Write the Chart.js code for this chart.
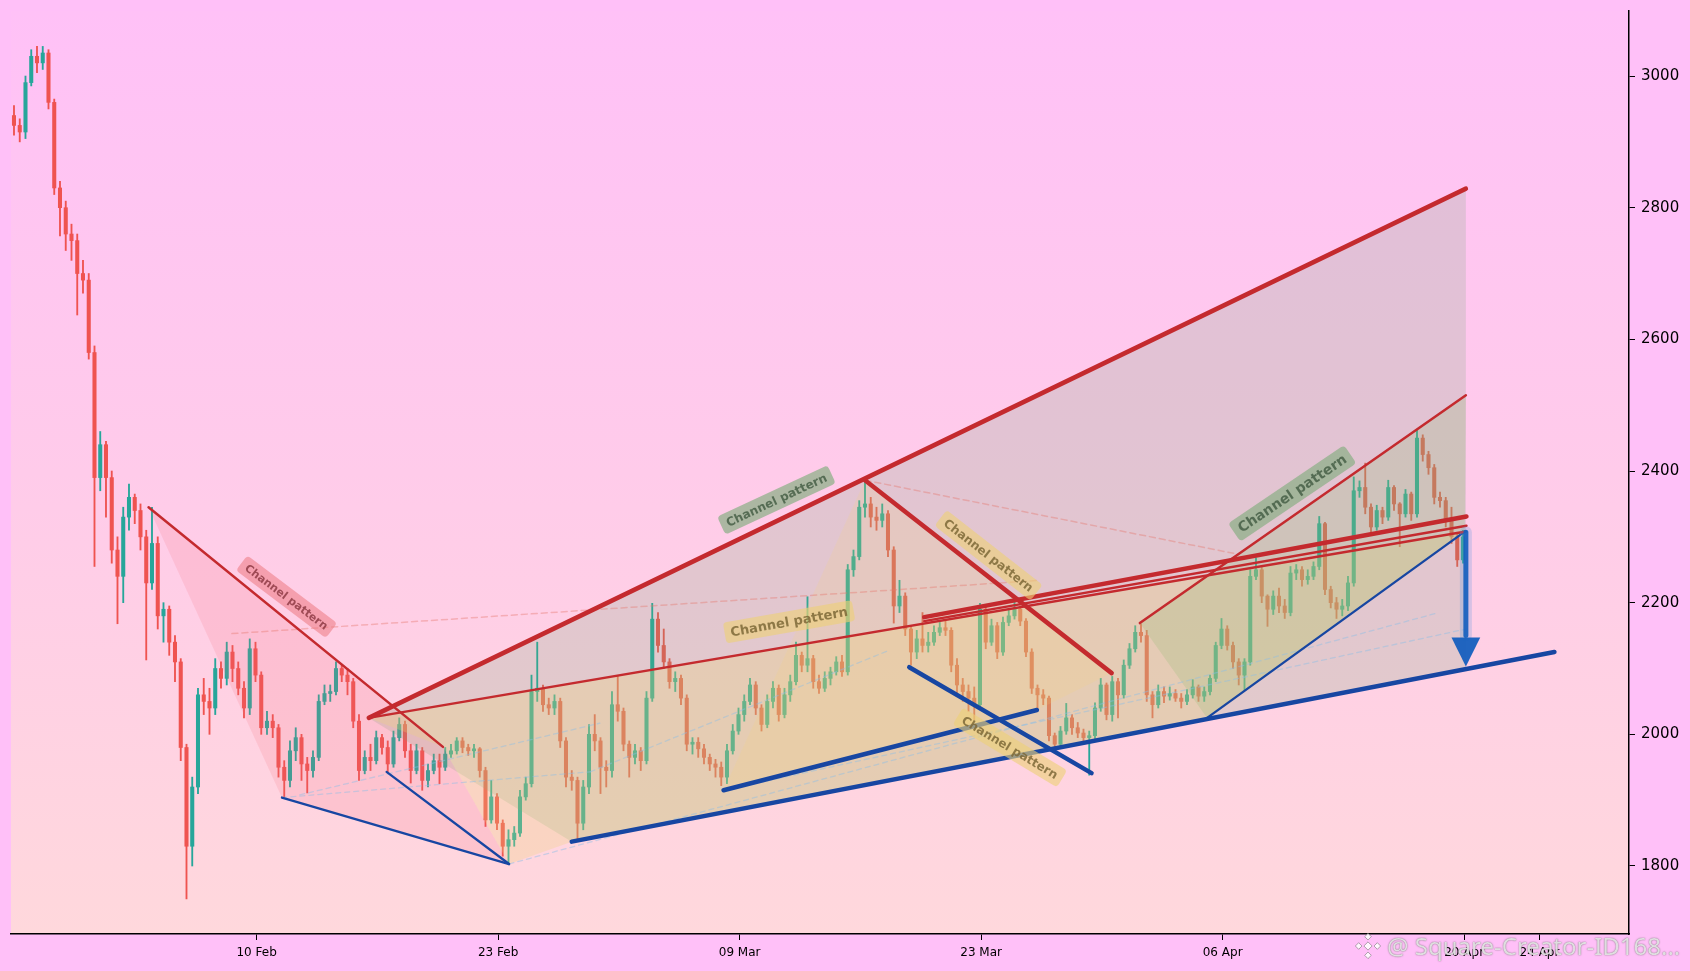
<!DOCTYPE html>
<html>
<head>
<meta charset="utf-8">
<script src="https://cdn.jsdelivr.net/npm/chart.js@4.4.1/dist/chart.umd.min.js"></script>
<style>
  html, body { margin: 0; padding: 0; background: #ffc0f8; }
  #wrap { position: relative; width: 1690px; height: 971px; overflow: hidden; }
  #mark {
    position: absolute; left: 1354px; top: 932px; height: 28px;
    display: flex; align-items: center; gap: 5px;
    font-family: "Noto Sans", "DejaVu Sans", sans-serif; font-size: 24px; line-height: 28px;
    color: rgba(255,255,255,0.78); white-space: nowrap;
    text-shadow: 0 0 1px rgba(80,80,80,0.8), 0 0 2px rgba(110,110,110,0.45);
  }
</style>
</head>
<body>
<div id="wrap">
  <canvas id="chart" width="1690" height="971"></canvas>
  <div id="mark">
    <svg width="28" height="28" viewBox="0 0 24 24">
      <g fill="rgba(255,255,255,0.85)" stroke="rgba(100,100,100,0.7)" stroke-width="0.6">
        <rect x="9.5" y="9.5" width="5" height="5" transform="rotate(45 12 12)"/>
        <rect x="10" y="2" width="4" height="4" transform="rotate(45 12 4)"/>
        <rect x="10" y="18" width="4" height="4" transform="rotate(45 12 20)"/>
        <rect x="2" y="10" width="4" height="4" transform="rotate(45 4 12)"/>
        <rect x="18" y="10" width="4" height="4" transform="rotate(45 20 12)"/>
      </g>
    </svg>
    <span>@ Square-Creator-ID168...</span>
  </div>
</div>
<script>
// candles (one slot each)
const opens = [2940,2925,2915,2990,3030,3020,3035,2960,2830,2800,2760,2750,2700,2690,2580,2390,2440,2390,2280,2240,
  2330,2360,2340,2300,2230,2290,2180,2190,2140,2110,1980,1830,1920,2060,2050,2040,2100,2085,2125,2100,
  2070,2040,2130,2090,2010,2020,2010,1950,1930,1975,1995,1955,1945,1965,2050,2062,2065,2100,2090,2080,
  2020,1945,1965,1960,1995,1980,1955,1995,2015,1975,1945,1975,1930,1945,1960,1950,1970,1975,1990,1980,
  1975,1978,1945,1870,1905,1865,1830,1840,1850,1905,1925,2065,2070,2045,2040,2050,1990,1935,1930,1865,
  1920,2000,1990,1950,1945,2045,2035,1985,1965,1975,1960,2055,2175,2135,2110,2080,2085,2055,1985,1988,
  1978,1965,1955,1950,1935,1975,2005,2030,2050,2075,2040,2015,2050,2070,2030,2060,2080,2120,2105,2115,
  2080,2070,2085,2095,2110,2095,2250,2270,2345,2350,2330,2325,2335,2280,2195,2210,2160,2125,2145,2135,
  2140,2155,2162,2158,2105,2075,2065,2055,2045,2190,2140,2165,2125,2170,2180,2190,2172,2125,2070,2060,
  2055,1998,1985,2005,2025,2010,2002,1995,1998,2040,2075,2030,2080,2060,2105,2130,2155,2150,2060,2045,
  2065,2058,2062,2055,2050,2060,2072,2058,2065,2085,2135,2160,2135,2110,2090,2110,2240,2250,2210,2190,
  2210,2195,2185,2245,2250,2235,2240,2255,2320,2220,2200,2190,2195,2230,2370,2375,2345,2315,2340,2330,
  2375,2350,2335,2365,2335,2450,2425,2405,2360,2355,2325,2300,2265];
const highs = [2955,2935,3000,3040,3045,3045,3040,2965,2840,2810,2775,2760,2720,2700,2590,2460,2445,2400,2300,2345,
  2380,2365,2350,2310,2345,2300,2200,2195,2150,2115,1985,1935,2070,2085,2070,2115,2110,2140,2135,2110,
  2080,2145,2140,2095,2035,2030,2015,1960,1990,2010,2000,1965,1975,2060,2075,2075,2110,2105,2100,2085,
  2030,1975,1985,2005,2000,1990,2005,2025,2020,1985,1985,1980,1955,1970,1970,1980,1985,1995,1995,1985,
  1985,1980,1950,1930,1910,1870,1855,1860,1915,1935,2090,2140,2075,2055,2060,2055,1995,1945,1935,1930,
  2015,2030,1995,1960,2065,2088,2040,1990,1985,1980,2065,2199,2185,2160,2115,2095,2090,2060,1995,1995,
  1985,1970,1962,1958,1985,2015,2040,2060,2085,2080,2045,2060,2080,2075,2070,2090,2140,2125,2209,2120,
  2090,2095,2102,2118,2120,2258,2280,2355,2383,2360,2345,2350,2340,2285,2234,2215,2165,2158,2185,2155,
  2165,2170,2172,2162,2115,2085,2075,2072,2199,2195,2175,2170,2178,2190,2201,2195,2176,2130,2075,2068,
  2058,2002,2012,2047,2030,2018,2008,2005,2048,2085,2078,2088,2085,2113,2138,2165,2168,2158,2065,2075,
  2072,2072,2068,2062,2068,2083,2075,2072,2090,2140,2176,2165,2140,2115,2115,2250,2268,2255,2212,2218,
  2222,2205,2255,2258,2255,2250,2262,2331,2322,2225,2208,2205,2240,2391,2385,2412,2350,2348,2345,2386,
  2378,2352,2372,2368,2462,2455,2430,2410,2368,2360,2345,2305,2310];
const lows = [2910,2900,2905,2985,3005,3010,2950,2820,2757,2735,2720,2637,2670,2570,2255,2370,2330,2260,2168,2200,
  2310,2320,2280,2113,2220,2160,2140,2120,2080,1960,1750,1800,1910,2030,2000,2030,2070,2075,2080,2060,
  2025,2030,2080,2000,2000,1995,1935,1905,1920,1960,1930,1911,1935,1960,2045,2050,2060,2080,2060,2010,
  1930,1940,1945,1955,1970,1943,1950,1990,1965,1926,1940,1915,1920,1940,1925,1945,1965,1970,1972,1968,
  1965,1935,1860,1865,1855,1815,1805,1830,1845,1900,1920,2050,2035,2030,2030,1980,1920,1915,1840,1855,
  1910,1975,1910,1920,1935,2020,1975,1935,1955,1945,1955,2050,2125,2100,2070,2065,2045,1975,1970,1965,
  1955,1945,1935,1922,1925,1970,2000,2020,2045,2030,2005,2010,2040,2020,2025,2050,2075,2095,2095,2070,
  2062,2065,2075,2090,2088,2090,2240,2265,2330,2315,2310,2315,2270,2169,2185,2150,2105,2115,2125,2125,
  2135,2150,2150,2095,2060,2050,2035,2022,2040,2130,2135,2115,2120,2165,2175,2165,2118,2062,2040,2045,
  1990,1978,1980,2000,2000,1995,1988,1938,1992,2035,2022,2020,2025,2055,2100,2125,2140,2050,2025,2040,
  2048,2052,2050,2040,2045,2055,2050,2050,2060,2080,2130,2128,2100,2075,2067,2105,2235,2200,2164,2182,
  2185,2176,2180,2235,2225,2228,2235,2250,2212,2192,2176,2180,2188,2225,2360,2335,2305,2310,2320,2325,
  2340,2285,2330,2325,2330,2415,2395,2350,2345,2315,2290,2255,2260];
const closes = [2925,2915,2990,3030,3020,3035,2960,2830,2800,2760,2750,2700,2690,2580,2390,2440,2390,2280,2240,2330,
  2360,2340,2300,2230,2290,2180,2190,2140,2110,1980,1830,1920,2060,2050,2040,2100,2085,2125,2100,2070,
  2040,2130,2090,2010,2020,2010,1950,1930,1975,1995,1955,1945,1965,2050,2062,2065,2100,2090,2080,2020,
  1945,1965,1960,1995,1980,1955,1995,2015,1975,1945,1975,1930,1945,1960,1950,1970,1975,1990,1980,1975,
  1978,1945,1870,1905,1865,1830,1840,1850,1905,1925,2065,2070,2045,2040,2050,1990,1935,1930,1865,1920,
  2000,1990,1950,1945,2045,2035,1985,1965,1975,1960,2055,2175,2135,2110,2080,2085,2055,1985,1988,1978,
  1965,1955,1950,1935,1975,2005,2030,2050,2075,2040,2015,2050,2070,2030,2060,2080,2120,2105,2115,2080,
  2070,2085,2095,2110,2095,2250,2270,2345,2350,2330,2325,2335,2280,2195,2210,2160,2125,2145,2135,2140,
  2155,2162,2158,2105,2075,2065,2055,2045,2190,2140,2165,2125,2170,2180,2190,2172,2125,2070,2060,2055,
  1998,1985,2005,2025,2010,2002,1995,1998,2040,2075,2030,2080,2060,2105,2130,2155,2150,2060,2045,2065,
  2058,2062,2055,2050,2060,2072,2058,2065,2085,2135,2160,2135,2110,2090,2110,2240,2250,2210,2190,2210,
  2195,2185,2245,2250,2235,2240,2255,2320,2220,2200,2190,2195,2230,2370,2375,2345,2315,2340,2330,2375,
  2350,2335,2365,2335,2450,2425,2405,2360,2355,2325,2300,2265,2300];

// axis ticks (x in candle slots)
const tickPos = [42.2, 84.2, 126.2, 168.2, 210.2, 252.2, 265.3];
const tickLabels = ['10 Feb', '23 Feb', '09 Mar', '23 Mar', '06 Apr', '20 Apr', '24 Apr'];
const yTicks = [1800, 2000, 2200, 2400, 2600, 2800, 3000];

// drawn pattern geometry, [slot, price]
const redThick = [[[61.7, 2025], [252.5, 2829]], [[148.0, 2386], [190.9, 2093]], [[158.3, 2178], [252.6, 2331]]];
const redThin = [[[61.7, 2025], [252.5, 2308]], [[158.3, 2172], [252.6, 2317]], [[23.4, 2345], [74.6, 1981]], [[195.8, 2169], [252.5, 2515]]];
const blueThick = [[[97.0, 1837], [267.9, 2125]], [[123.4, 1915], [177.9, 2037]], [[155.7, 2102], [187.4, 1941]]];
const blueThin = [[[46.6, 1904], [86.1, 1803]], [[64.8, 1943], [86.1, 1803]], [[207.5, 2025], [252.3, 2308]]];
const dashPink = [[[37.9, 2153], [178.4, 2234]], [[148.0, 2386], [212.1, 2275]]];
const dashBlue = [[[46.6, 1904], [100.2, 1943]], [[100.2, 1943], [152.3, 2128]], [[86.1, 1803], [247.4, 2184]],
  [[49.7, 1908], [101.9, 2017]], [[123.4, 1915], [252.5, 2160]]];
const pinkZone = [[23.4, 2345], [46.6, 1904], [86.1, 1803], [74.6, 1981]];
const mauveZone = [[61.7, 2025], [252.5, 2829], [252.5, 2099], [97.0, 1837]];
const tanZone = [[61.7, 2025], [252.5, 2308], [252.3, 2308], [207.5, 2023], [97.0, 1837], [86.1, 1803], [74.6, 1981]];
const yellowZone = [[123.4, 1915], [148.0, 2386], [190.9, 2093], [177.9, 2037]];
const greenZone = [[195.8, 2169], [252.5, 2515], [252.3, 2308], [207.5, 2025]];
const arrowShaft = [[252.5, 2307], [252.5, 2150]];
const arrowHead = [[252.5, 2103], [250.0, 2147], [255.0, 2147]];

// pattern labels
const labelX = [47.4, 132.6, 134.8, 169.5, 173.2, 222.3];
const labelY = [2209, 2356, 2171, 2272, 1980, 2366];
const labelAngle = [37, -25, -10, 38, 31, -34];
const labelSize = [11, 12, 13, 12, 12, 14];
const labelTone = ['red', 'green', 'yellow', 'yellow', 'yellow', 'green'];
const tones = {
  red: ['rgba(236,120,128,0.55)', 'rgba(130,45,55,0.75)'],
  green: ['rgba(140,175,135,0.72)', 'rgba(70,95,70,0.85)'],
  yellow: ['rgba(238,208,120,0.62)', 'rgba(125,105,55,0.85)']
};

const UP = '#26a69a', DOWN = '#ef5350';
const candleColors = closes.map((c, i) => c >= opens[i] ? UP : DOWN);
const toXY = pts => pts.map(p => ({x: p[0], y: p[1]}));

function seg(pts, color, width, order, dash) {
  return {
    type: 'line', data: toXY(pts), borderColor: color, borderWidth: width,
    borderDash: dash || [], borderCapStyle: 'round', pointRadius: 0, pointHoverRadius: 0,
    fill: false, order: order
  };
}
function zone(pts, color, order) {
  return {
    type: 'line', data: toXY(pts.concat([pts[0]])), borderWidth: 0, borderColor: 'rgba(0,0,0,0)',
    backgroundColor: color, fill: 'shape', pointRadius: 0, pointHoverRadius: 0, order: order
  };
}

const datasets = [
  {
    type: 'bar', data: opens.map((o, i) => ({x: i, y: [lows[i], highs[i]]})),
    backgroundColor: candleColors, grouped: false, categoryPercentage: 1, barPercentage: 1,
    maxBarThickness: 1.2, order: 20
  },
  {
    type: 'bar', data: opens.map((o, i) => ({x: i, y: [o, closes[i]]})),
    backgroundColor: candleColors, grouped: false, categoryPercentage: 1, barPercentage: 1,
    maxBarThickness: 3.4, minBarLength: 1, order: 19
  },
  zone(pinkZone, 'rgba(245,105,120,0.16)', 16),
  zone(mauveZone, 'rgba(110,170,115,0.2)', 16),
  zone(tanZone, 'rgba(238,212,118,0.28)', 15),
  zone(yellowZone, 'rgba(250,215,110,0.15)', 14),
  zone(greenZone, 'rgba(145,189,116,0.24)', 14)
];
dashPink.forEach(p => datasets.push(seg(p, 'rgba(230,120,110,0.4)', 1.5, 8, [6, 4])));
dashBlue.forEach(p => datasets.push(seg(p, 'rgba(140,190,230,0.45)', 1.3, 8, [5, 4])));
redThin.forEach(p => datasets.push(seg(p, '#c42a2e', 2.5, 5)));
blueThin.forEach(p => datasets.push(seg(p, '#1746a2', 2.3, 5)));
redThick.forEach(p => datasets.push(seg(p, '#c42a2e', 4.5, 4)));
blueThick.forEach(p => datasets.push(seg(p, '#1746a2', 4.5, 4)));
datasets.push(seg(arrowShaft, 'rgba(90,150,225,0.25)', 12, 3));
datasets.push(seg(arrowShaft, 'rgba(21,95,190,0.92)', 5, 2));
datasets.push(zone(arrowHead, 'rgba(21,95,190,0.95)', 1));

const backdrop = {
  id: 'backdrop',
  beforeDraw(chart) {
    const {ctx, chartArea: a} = chart;
    ctx.save();
    ctx.fillStyle = '#ffc0f8';
    ctx.fillRect(0, 0, chart.width, chart.height);
    const g = ctx.createLinearGradient(0, a.top, 0, a.bottom);
    g.addColorStop(0, '#ffc1f7');
    g.addColorStop(0.5, '#ffcbea');
    g.addColorStop(1, '#ffd8dc');
    ctx.fillStyle = g;
    ctx.fillRect(a.left, a.top, a.right - a.left, a.bottom - a.top);
    ctx.restore();
  }
};

const channelLabels = {
  id: 'channelLabels',
  afterDatasetsDraw(chart) {
    const {ctx, scales: {x, y}} = chart;
    labelX.forEach((lx, i) => {
      const [bg, fg] = tones[labelTone[i]];
      const size = labelSize[i];
      ctx.save();
      ctx.translate(x.getPixelForValue(lx), y.getPixelForValue(labelY[i]));
      ctx.rotate(labelAngle[i] * Math.PI / 180);
      ctx.font = 'bold ' + size + 'px "DejaVu Sans"';
      const w = ctx.measureText('Channel pattern').width + 12;
      const h = size + 8;
      ctx.fillStyle = bg;
      ctx.beginPath();
      ctx.roundRect(-w / 2, -h / 2, w, h, 4);
      ctx.fill();
      ctx.fillStyle = fg;
      ctx.textAlign = 'center';
      ctx.textBaseline = 'middle';
      ctx.fillText('Channel pattern', 0, 1);
      ctx.restore();
    });
  }
};

const axisFont = {family: '"DejaVu Sans", sans-serif'};

new Chart(document.getElementById('chart').getContext('2d'), {
  type: 'bar',
  data: {datasets: datasets},
  options: {
    responsive: false,
    devicePixelRatio: 1,
    animation: false,
    events: [],
    layout: {padding: {left: 11, top: 11, right: 0, bottom: 0}},
    plugins: {legend: {display: false}, tooltip: {enabled: false}},
    scales: {
      x: {
        type: 'linear', min: -0.52, max: 280.87, offset: false,
        afterBuildTicks: s => { s.ticks = tickPos.map(v => ({value: v})); },
        afterFit: s => { s.height = 37; s.paddingLeft = 0; s.paddingRight = 0; },
        ticks: {
          autoSkip: false, maxRotation: 0, padding: 6, color: '#000',
          font: Object.assign({size: 12}, axisFont),
          callback: (v, i) => tickLabels[i]
        },
        grid: {offset: false, drawOnChartArea: false, drawTicks: true, tickLength: 6, color: '#000', lineWidth: 1},
        border: {display: true, color: '#000', width: 1.5}
      },
      y: {
        type: 'linear', position: 'right', min: 1696.7, max: 3098.8,
        afterBuildTicks: s => { s.ticks = yTicks.map(v => ({value: v})); },
        afterFit: s => { s.width = 61; s.paddingTop = 0; s.paddingBottom = 0; },
        ticks: {
          autoSkip: false, padding: 6, color: '#000',
          font: Object.assign({size: 15}, axisFont),
          callback: v => String(v)
        },
        grid: {offset: false, drawOnChartArea: false, drawTicks: true, tickLength: 6, color: '#000', lineWidth: 1},
        border: {display: true, color: '#000', width: 1.5}
      }
    }
  },
  plugins: [backdrop, channelLabels]
});
</script>
</body>
</html>
